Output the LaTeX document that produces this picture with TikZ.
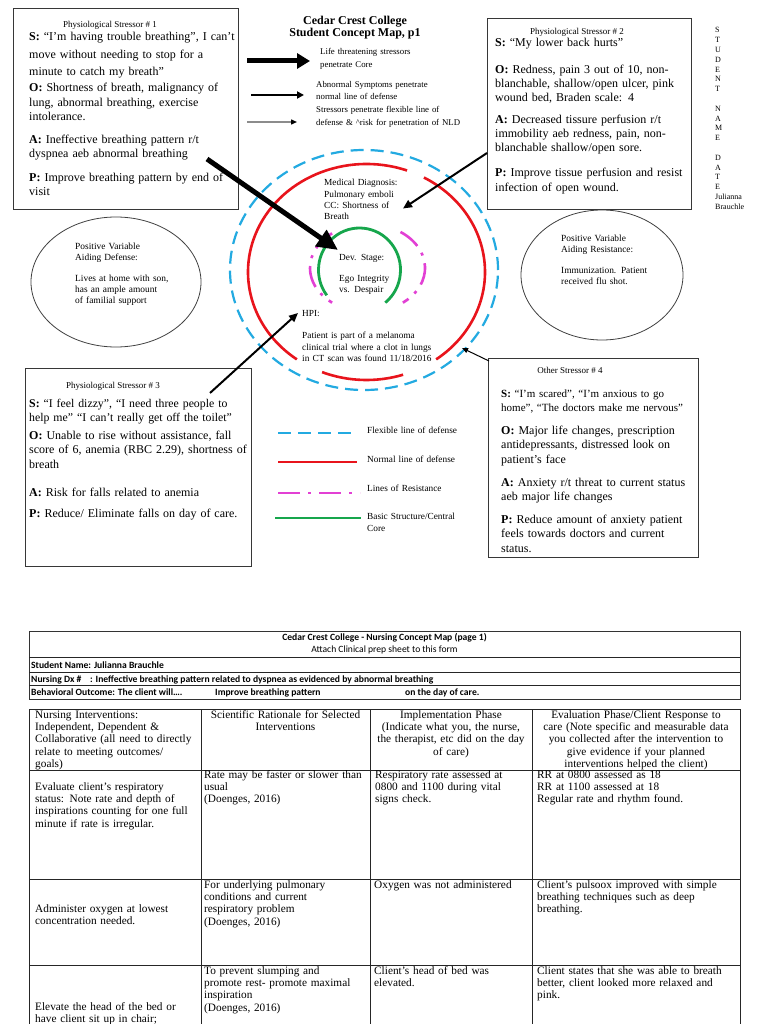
\documentclass[tikz,border=0pt]{standalone}
\usepackage{fontspec}
\setmainfont{Liberation Serif}
\newfontfamily\calib{Carlito}
\usetikzlibrary{arrows.meta,shapes.geometric}
\definecolor{cblue}{RGB}{35,170,225}
\definecolor{cred}{RGB}{232,20,28}
\definecolor{cmag}{RGB}{226,64,212}
\definecolor{cgreen}{RGB}{22,166,76}
\definecolor{edge}{RGB}{55,55,55}
\definecolor{lgray}{RGB}{140,140,140}
\newcommand\fsBody{\fontsize{12}{14.5}\selectfont}
\newcommand\fsTitle{\fontsize{9}{10}\selectfont}
\newcommand\fsSmall{\fontsize{9.3}{11.2}\selectfont}
\newcommand\fsTab{\fontsize{11.3}{12.2}\selectfont}
\newcommand\fsHead{\calib\bfseries\fontsize{9.6}{11}\selectfont}
\begin{document}
\begin{tikzpicture}[x=1pt,y=-1pt,
  box/.style={draw=edge, line width=1.1pt, anchor=north west, inner sep=0pt},
  para/.style={anchor=base west, inner sep=0pt, align=left, text width=320pt},
  cpara/.style={anchor=base, inner sep=0pt, align=center, text width=240pt},
  ttl/.style={anchor=base, inner sep=0pt, font=\fsTitle},
  bigarrow/.style={line width=5pt, -{Triangle[length=21pt,width=19pt]}},
  legbig/.style={line width=5pt, -{Triangle[length=13pt,width=15pt]}},
  medarrow/.style={line width=2pt, -{Triangle[length=9pt,width=8pt]}},
  legmed/.style={line width=2.4pt, -{Triangle[length=7pt,width=7pt]}},
  thinarrow/.style={line width=1pt, -{Triangle[length=6pt,width=5pt]}},
  legthin/.style={line width=1.4pt, draw=lgray, -{Triangle[length=6pt,width=5pt,color=black]}},
  flexline/.style={cblue, line width=2.2pt, dash pattern=on 13pt off 7pt},
  normline/.style={cred, line width=2.6pt},
  resline/.style={cmag, line width=2.6pt, dash pattern=on 22pt off 8pt on 3pt off 8pt},
  coreline/.style={cgreen, line width=2.8pt},
  tabline/.style={draw=black!85, line width=0.9pt},
  oval/.style={draw=black!75, line width=0.8pt}
]
\useasboundingbox (0,0) rectangle (768,1024);
\clip (0,0) rectangle (768,1024);
\fill[white] (0,0) rectangle (768,1024);

% ---------------- box 1
\node[box, minimum width=225pt, minimum height=201pt] (box1) at (13,8) {};
\node[ttl] (b1t) at (110,28) {Physiological Stressor \# 1};
\node[para, font={\fontsize{12}{17.5}\selectfont}] (b1s) at (29,41) {\textbf{S:} “I’m having trouble breathing”, I can’t\\move without needing to stop for a\\minute to catch my breath”};
\node[para, font=\fsBody] (b1o) at (29,92) {\textbf{O:} Shortness of breath, malignancy of\\lung, abnormal breathing, exercise\\intolerance.};
\node[para, font=\fsBody] (b1a) at (29,143.5) {\textbf{A:} Ineffective breathing pattern r/t\\dyspnea aeb abnormal breathing};
\node[para, font=\fsBody] (b1p) at (29,181.5) {\textbf{P:} Improve breathing pattern by end of\\visit};

% ---------------- box 2
\node[box, minimum width=204pt, minimum height=191pt] (box2) at (487,18) {};
\node[ttl] (b2t) at (577,35) {Physiological Stressor \# 2};
\node[para, font=\fsBody] (b2s) at (495,47) {\textbf{S:} “My lower back hurts”};
\node[para, font={\fontsize{12}{13.7}\selectfont}] (b2o) at (495,74) {\textbf{O:} Redness, pain 3 out of 10, non-\\blanchable, shallow/open ulcer, pink\\wound bed, Braden scale: 4};
\node[para, font={\fontsize{12}{13.9}\selectfont}] (b2a) at (495,124) {\textbf{A:} Decreased tissure perfusion r/t\\immobility aeb redness, pain, non-\\blanchable shallow/open sore.};
\node[para, font=\fsBody] (b2p) at (495,177) {\textbf{P:} Improve tissue perfusion and resist\\infection of open wound.};

% ---------------- box 3
\node[box, minimum width=226pt, minimum height=198pt] (box3) at (25,368) {};
\node[ttl] (b3t) at (113,388) {Physiological Stressor \# 3};
\node[para, font={\fontsize{11.8}{14}\selectfont}] (b3s) at (29,407) {\textbf{S:} “I feel dizzy”, “I need three people to\\help me” “I can’t really get off the toilet”};
\node[para, font=\fsBody] (b3o) at (29,439) {\textbf{O:} Unable to rise without assistance, fall\\score of 6, anemia (RBC 2.29), shortness of\\breath};
\node[para, font=\fsBody] (b3a) at (29,496) {\textbf{A:} Risk for falls related to anemia};
\node[para, font=\fsBody] (b3p) at (29,517) {\textbf{P:} Reduce/ Eliminate falls on day of care.};

% ---------------- box 4
\node[box, minimum width=210pt, minimum height=199pt] (box4) at (488,358) {};
\node[ttl] (b4t) at (570,373) {Other Stressor \# 4};
\node[para, font={\fontsize{11}{14}\selectfont}] (b4s) at (501,397) {\textbf{S:} “I’m scared”, “I’m anxious to go\\home”, “The doctors make me nervous”};
\node[para, font=\fsBody] (b4o) at (501,434) {\textbf{O:} Major life changes, prescription\\antidepressants, distressed look on\\patient’s face};
\node[para, font=\fsBody] (b4a) at (501,486) {\textbf{A:} Anxiety r/t threat to current status\\aeb major life changes};
\node[para, font=\fsBody] (b4p) at (501,523) {\textbf{P:} Reduce amount of anxiety patient\\feels towards doctors and current\\status.};

% ---------------- title
\node[anchor=base, inner sep=0pt, font=\bfseries\fontsize{12}{12}\selectfont] (t1) at (355,25) {Cedar Crest College};
\node[anchor=base, inner sep=0pt, font=\bfseries\fontsize{12}{12}\selectfont] (t2) at (355,36.5) {Student Concept Map, p1};

% ---------------- legend arrows
\coordinate (la1) at (247,61); \coordinate (lb1) at (310,61);
\coordinate (la2) at (251,95); \coordinate (lb2) at (304,95);
\coordinate (la3) at (247,122); \coordinate (lb3) at (297,122);
\draw[legbig] (la1) -- (lb1);
\draw[legmed] (la2) -- (lb2);
\draw[legthin] (la3) -- (lb3);
\node[para, font={\fontsize{8.8}{13}\selectfont}] (lt1) at (320,55) {Life threatening stressors\\penetrate Core};
\node[para, font={\fontsize{8.8}{12}\selectfont}] (lt2) at (316,88) {Abnormal Symptoms penetrate\\normal line of defense};
\node[para, font={\fontsize{8.8}{12.5}\selectfont}] (lt3) at (316,113) {Stressors penetrate flexible line of\\defense \& \textasciicircum risk for penetration of NLD};

% ---------------- vertical student text
\node[para, font={\fontsize{8}{9.8}\selectfont}] (vert) at (715,33) {S\\T\\U\\D\\E\\N\\T\\[9.8pt]N\\A\\M\\E\\[9.8pt]D\\A\\T\\E\\Julianna\\Brauchle};

% ---------------- rings
\coordinate (cb) at (364,270);
\coordinate (cr) at (366.5,272);
\coordinate (cm) at (367.5,268);
\coordinate (cg) at (359.5,270);
\draw[flexline] (cb) ellipse [x radius=134pt, y radius=120pt];
\draw[normline] (cr) ++(70:118.5pt and 108pt) arc [start angle=70, end angle=234, x radius=118.5pt, y radius=108pt];
\draw[normline] (cr) ++(248:118.5pt and 108pt) arc [start angle=248, end angle=288, x radius=118.5pt, y radius=108pt];
\draw[normline] (cr) ++(306:118.5pt and 108pt) arc [start angle=306, end angle=421, x radius=118.5pt, y radius=108pt];
\draw[resline] (cm) ++(128:57.5pt and 44pt) arc [start angle=128, end angle=232, x radius=57.5pt, y radius=44pt];
\draw[resline] (cm) ++(55:57.5pt and 44pt) arc [start angle=55, end angle=-52, x radius=57.5pt, y radius=44pt];
\draw[coreline] (cg) ++(-51:41pt and 42pt) arc [start angle=-51, end angle=217, x radius=41pt, y radius=42pt];

\node[para, font=\fsSmall] (med) at (324,186) {Medical Diagnosis:\\Pulmonary emboli\\CC: Shortness of\\Breath};
\node[para, font={\fontsize{9.3}{10.7}\selectfont}] (dev) at (339,260) {Dev. Stage:\\[10.7pt]Ego Integrity\\vs. Despair};
\node[para, font={\fontsize{9.3}{11.5}\selectfont}] (hpi) at (302,316) {HPI:\\[11pt]Patient is part of a melanoma\\clinical trial where a clot in lungs\\in CT scan was found 11/18/2016};

% ---------------- ovals
\node[oval, ellipse, minimum width=170pt, minimum height=130pt, inner sep=0pt] (ovl) at (116,282) {};
\node[para, font={\fontsize{9.4}{11}\selectfont}] (ovlt) at (75,249) {Positive Variable\\Aiding Defense:\\[10pt]Lives at home with son,\\has an ample amount\\of familial support};
\node[oval, ellipse, minimum width=162pt, minimum height=130pt, inner sep=0pt] (ovr) at (602,275) {};
\node[para, font={\fontsize{9.4}{11}\selectfont}] (ovrt) at (561,241) {Positive Variable\\Aiding Resistance:\\[10pt]Immunization. Patient\\received flu shot.};

% ---------------- arrows into the rings
\coordinate (s1) at (207,159); \coordinate (e1) at (338,250);
\coordinate (s2) at (487,153); \coordinate (e2) at (403,208.5);
\coordinate (s3) at (210,393); \coordinate (e3) at (298,313);
\coordinate (s4) at (489,361); \coordinate (e4) at (462,348);
\draw[bigarrow] (s1) -- (e1);
\draw[medarrow] (s2) -- (e2);
\draw[medarrow] (s3) -- (e3);
\draw[thinarrow] (s4) -- (e4);

% ---------------- legend lines
\coordinate (lf1) at (278,433); \coordinate (lf2) at (357,433);
\coordinate (ln1) at (278,462); \coordinate (ln2) at (357,462);
\coordinate (lr1) at (278,493); \coordinate (lr2) at (360,493);
\coordinate (lc1) at (275,518); \coordinate (lc2) at (361,518);
\draw[flexline] (lf1) -- (lf2);
\draw[normline] (ln1) -- (ln2);
\draw[resline] (lr1) -- (lr2);
\draw[coreline] (lc1) -- (lc2);
\node[para, font=\fsSmall] (lg1) at (367,433) {Flexible line of defense};
\node[para, font=\fsSmall] (lg2) at (367,462) {Normal line of defense};
\node[para, font=\fsSmall] (lg3) at (367,491) {Lines of Resistance};
\node[para, font={\fontsize{9.3}{12}\selectfont}] (lg4) at (367,519) {Basic Structure/Central\\Core};

% ---------------- table header block
\node[draw=black!80, line width=0.9pt, anchor=north west, minimum width=711pt, minimum height=68pt, inner sep=0pt] (hdr) at (29,631) {};
\draw[tabline] (29,657) -- (740,657);
\draw[tabline] (29,672) -- (740,672);
\draw[tabline] (29,685) -- (740,685);
\node[anchor=base, inner sep=0pt, font=\fsHead] (h1) at (384.5,640.5) {Cedar Crest College - Nursing Concept Map (page 1)};
\node[anchor=base, inner sep=0pt, font={\calib\fontsize{9.6}{11}\selectfont}] (h2) at (384.5,652.5) {Attach Clinical prep sheet to this form};
\node[anchor=base west, inner sep=0pt, font=\fsHead] (h3) at (31,668.5) {Student Name: Julianna Brauchle};
\node[anchor=base west, inner sep=0pt, font=\fsHead] (h4a) at (31,682) {Nursing Dx \#};
\node[anchor=base west, inner sep=0pt, font=\fsHead] (h4b) at (90,682) {: Ineffective breathing pattern related to dyspnea as evidenced by abnormal breathing};
\node[anchor=base west, inner sep=0pt, font=\fsHead] (h5a) at (31,695) {Behavioral Outcome: The client will….};
\node[anchor=base west, inner sep=0pt, font=\fsHead] (h5b) at (215,695) {Improve breathing pattern};
\node[anchor=base west, inner sep=0pt, font=\fsHead] (h5c) at (405,695) {on the day of care.};

% ---------------- main table
\draw[tabline] (29,1030) -- (29,709) -- (740,709) -- (740,1030);
\draw[tabline] (201,709) -- (201,1030);
\draw[tabline] (370,709) -- (370,1030);
\draw[tabline] (532,709) -- (532,1030);
\draw[tabline] (29,770) -- (740,770);
\draw[tabline] (29,879) -- (740,879);
\draw[tabline] (29,965) -- (740,965);

\node[para, font=\fsTab] (c11) at (35,718.5) {Nursing Interventions:\\Independent, Dependent \&\\Collaborative (all need to directly\\relate to meeting outcomes/\\goals)};
\node[cpara, font=\fsTab] (c12) at (285.5,718.5) {Scientific Rationale for Selected\\Interventions};
\node[cpara, font=\fsTab] (c13) at (451,718.5) {Implementation Phase\\(Indicate what you, the nurse,\\the therapist, etc did on the day\\of care)};
\node[cpara, font=\fsTab] (c14) at (636,718.5) {Evaluation Phase/Client Response to\\care (Note specific and measurable data\\you collected after the intervention to\\give evidence if your planned\\interventions helped the client)};

\node[para, font=\fsTab] (r11) at (35,790.5) {Evaluate client’s respiratory\\status: Note rate and depth of\\inspirations counting for one full\\minute if rate is irregular.};
\node[para, font=\fsTab] (r12) at (204,778.5) {Rate may be faster or slower than\\usual\\(Doenges, 2016)};
\node[para, font=\fsTab] (r13) at (375,778.5) {Respiratory rate assessed at\\0800 and 1100 during vital\\signs check.};
\node[para, font=\fsTab] (r14) at (537,778.5) {RR at 0800 assessed as 18\\RR at 1100 assessed at 18\\Regular rate and rhythm found.};

\node[para, font=\fsTab] (r21) at (35,912.5) {Administer oxygen at lowest\\concentration needed.};
\node[para, font=\fsTab] (r22) at (204,888.5) {For underlying pulmonary\\conditions and current\\respiratory problem\\(Doenges, 2016)};
\node[para, font=\fsTab] (r23) at (374,888.5) {Oxygen was not administered};
\node[para, font=\fsTab] (r24) at (537,888.5) {Client’s pulsoox improved with simple\\breathing techniques such as deep\\breathing.};

\node[para, font=\fsTab] (r31) at (35,1010.5) {Elevate the head of the bed or\\have client sit up in chair;};
\node[para, font=\fsTab] (r32) at (204,974.5) {To prevent slumping and\\promote rest- promote maximal\\inspiration\\(Doenges, 2016)};
\node[para, font=\fsTab] (r33) at (374,974.5) {Client’s head of bed was\\elevated.};
\node[para, font=\fsTab] (r34) at (537,974.5) {Client states that she was able to breath\\better, client looked more relaxed and\\pink.};
\end{tikzpicture}
\end{document}
